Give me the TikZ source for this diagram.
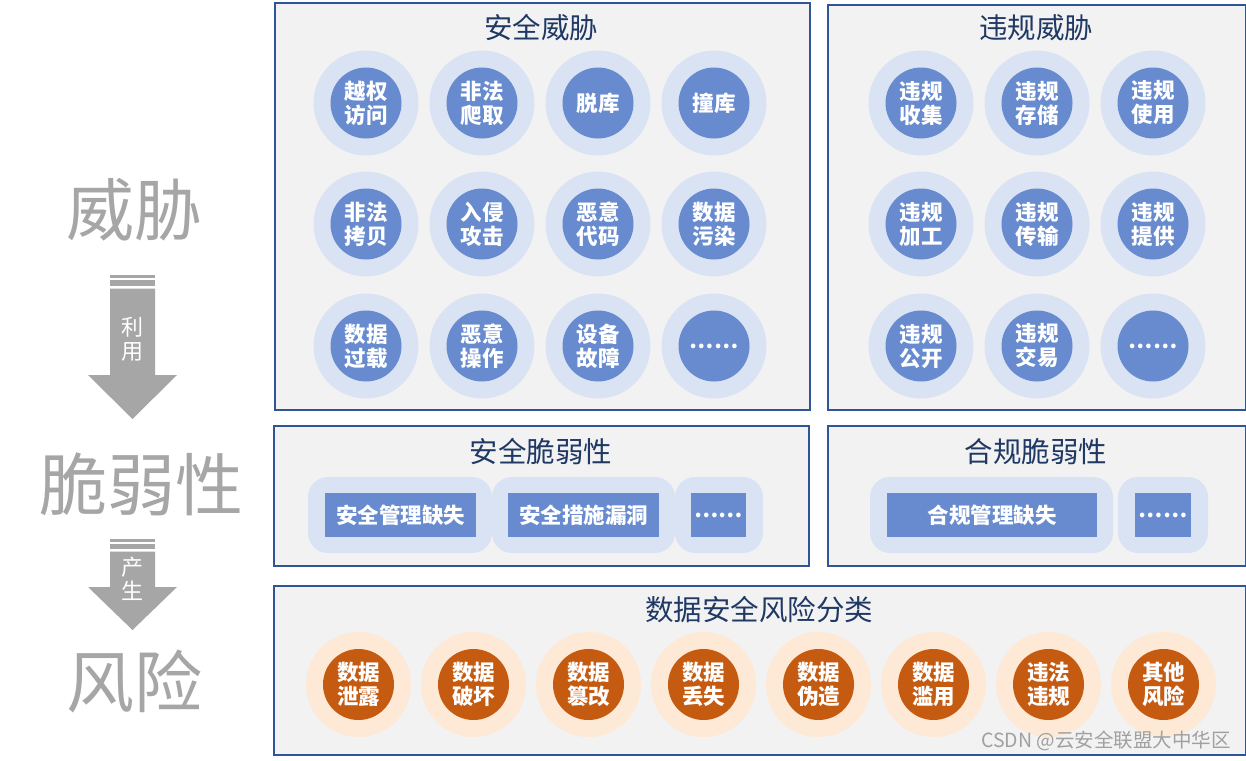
\documentclass[tikz,border=0pt]{standalone}
\usepackage{fontspec}
\setmainfont{Noto Sans CJK SC}
\definecolor{boxblue}{HTML}{2F5597}
\definecolor{panelgray}{HTML}{F2F2F2}
\definecolor{navy}{HTML}{1F3864}
\definecolor{haloblue}{HTML}{DAE3F3}
\definecolor{coreblue}{HTML}{678BCE}
\definecolor{halooran}{HTML}{FDE9D5}
\definecolor{coreoran}{HTML}{C55A11}
\definecolor{leftgray}{HTML}{A6A6A6}
\definecolor{wmgray}{HTML}{A0A0A0}
\tikzset{
  panel/.style={draw=boxblue, line width=1.8pt, fill=panelgray, anchor=north west, inner sep=0pt},
  ptitle/.style={text=navy, font=\fontsize{28.5}{30}\selectfont, inner sep=0pt},
  halo/.style={circle, fill=haloblue, minimum size=105pt, inner sep=0pt},
  core/.style={circle, fill=coreblue, minimum size=71pt, inner sep=0pt, text=white,
    font=\bfseries\fontsize{21.5}{24}\selectfont, align=center},
  haloo/.style={halo, fill=halooran},
  coreo/.style={core, fill=coreoran},
  vhalo/.style={rounded corners=20pt, fill=haloblue, inner sep=0pt, minimum height=76pt},
  vcore/.style={fill=coreblue, inner sep=0pt, minimum height=44pt, text=white,
    font=\bfseries\fontsize{21.5}{24}\selectfont},
  biglabel/.style={text=leftgray, font=\fontsize{68}{72}\selectfont, inner sep=0pt},
  arrtext/.style={text=white, font=\fontsize{22}{24}\selectfont, inner sep=0pt},
}
\newcommand\blueitem[4]{\node[halo] (h#1) at (#2,#3) {};\node[core] (c#1) at (#2,#3) {#4};}
\newcommand\oranitem[4]{\node[haloo] (h#1) at (#2,#3) {};\node[coreo] (c#1) at (#2,#3) {#4};}
\begin{document}
\begin{tikzpicture}[x=1pt,y=-1pt]
\useasboundingbox (0,0) rectangle (1246,760);
\fill[white] (0,0) rectangle (1246,760);

% left column
\node[biglabel] (lthreat) at (134,210) {威胁};
\node[biglabel] (lvuln) at (141,484) {脆弱性};
\node[biglabel] (lrisk) at (134,681) {风险};

\fill[leftgray] (110,275) rectangle (155,277.5);
\fill[leftgray] (110,280) rectangle (155,286);
\fill[leftgray] (110,288.5) -- (155,288.5) -- (155,375) -- (177,375) -- (132.5,419) -- (88,375) -- (110,375) -- cycle;
\node[arrtext] (use1) at (132.5,327) {利};
\node[arrtext] (use2) at (132.5,352) {用};

\fill[leftgray] (110,539.3) rectangle (155,541.7);
\fill[leftgray] (110,544) rectangle (155,549);
\fill[leftgray] (110,551.7) -- (155,551.7) -- (155,587) -- (177,587) -- (132.5,630) -- (88,587) -- (110,587) -- cycle;
\node[arrtext] (gen1) at (132.5,567) {产};
\node[arrtext] (gen2) at (132.5,591) {生};

% panels
\node[panel, minimum width=535pt, minimum height=407pt] (psec) at (274,2) {};
\node[panel, minimum width=418pt, minimum height=405pt] (pcomp) at (827,4) {};
\node[panel, minimum width=535pt, minimum height=140pt] (psv) at (273,425) {};
\node[panel, minimum width=418pt, minimum height=140pt] (pcv) at (827,425) {};
\node[panel, minimum width=972pt, minimum height=169pt] (prisk) at (273,585) {};

\node[ptitle] (tsec) at (541,28) {安全威胁};
\node[ptitle] (tcomp) at (1036,28) {违规威胁};
\node[ptitle] (tsv) at (541,452) {安全脆弱性};
\node[ptitle] (tcv) at (1036,452) {合规脆弱性};
\node[ptitle] (trisk) at (759,610) {数据安全风险分类};

% security threats
\blueitem{s1}{366}{103}{越权\\访问}
\blueitem{s2}{482}{103}{非法\\爬取}
\blueitem{s3}{598}{103}{脱库}
\blueitem{s4}{714}{103}{撞库}
\blueitem{s5}{366}{224}{非法\\拷贝}
\blueitem{s6}{482}{224}{入侵\\攻击}
\blueitem{s7}{598}{224}{恶意\\代码}
\blueitem{s8}{714}{224}{数据\\污染}
\blueitem{s9}{366}{346}{数据\\过载}
\blueitem{s10}{482}{346}{恶意\\操作}
\blueitem{s11}{598}{346}{设备\\故障}
\blueitem{s12}{714}{346}{……}

% compliance threats
\blueitem{v1}{921}{103}{违规\\收集}
\blueitem{v2}{1037}{103}{违规\\存储}
\blueitem{v3}{1153}{103}{违规\\使用}
\blueitem{v4}{921}{224}{违规\\加工}
\blueitem{v5}{1037}{224}{违规\\传输}
\blueitem{v6}{1153}{224}{违规\\提供}
\blueitem{v7}{921}{346}{违规\\公开}
\blueitem{v8}{1037}{346}{违规\\交易}
\blueitem{v9}{1153}{346}{……}

% security vulnerabilities
\node[vhalo, minimum width=184pt] (sh1) at (400,515) {};
\node[vhalo, minimum width=183pt] (sh2) at (583.5,515) {};
\node[vhalo, minimum width=88pt] (sh3) at (719,515) {};
\node[vcore, minimum width=151pt] (sc1) at (400.5,515) {安全管理缺失};
\node[vcore, minimum width=151pt] (sc2) at (583.5,515) {安全措施漏洞};
\node[vcore, minimum width=55pt] (sc3) at (718.5,515) {……};

% compliance vulnerabilities
\node[vhalo, minimum width=243pt] (ch1) at (991.5,515) {};
\node[vhalo, minimum width=90pt] (ch2) at (1163,515) {};
\node[vcore, minimum width=210pt] (cc1) at (992,515) {合规管理缺失};
\node[vcore, minimum width=56pt] (cc2) at (1163,515) {……};

% risks
\oranitem{r1}{358.5}{684.5}{数据\\泄露}
\oranitem{r2}{473.5}{684.5}{数据\\破坏}
\oranitem{r3}{588.5}{684.5}{数据\\篡改}
\oranitem{r4}{703.5}{684.5}{数据\\丢失}
\oranitem{r5}{818.5}{684.5}{数据\\伪造}
\oranitem{r6}{933.5}{684.5}{数据\\滥用}
\oranitem{r7}{1048.5}{684.5}{违法\\违规}
\oranitem{r8}{1163.5}{684.5}{其他\\风险}

% watermark
\node[text=wmgray, font=\fontsize{19.5}{21}\selectfont, anchor=east, inner sep=0pt] (wm) at (1231,741) {CSDN @云安全联盟大中华区};
\end{tikzpicture}
\end{document}
